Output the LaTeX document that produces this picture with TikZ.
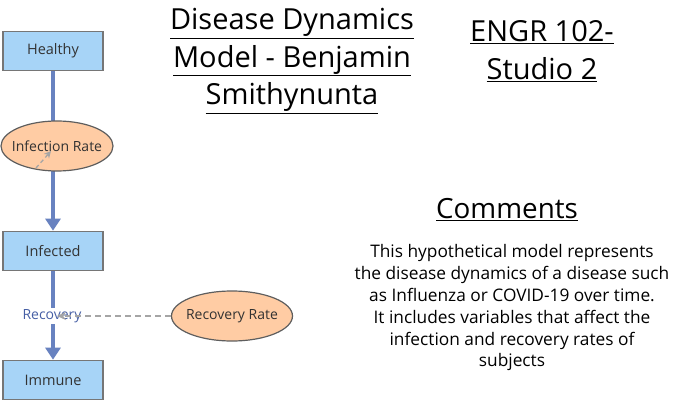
\documentclass[tikz,border=0pt]{standalone}
\usepackage{fontspec}
\setmainfont{Open Sans}
\usetikzlibrary{arrows.meta,shapes.geometric}
\definecolor{boxfill}{RGB}{167,212,247}
\definecolor{boxdraw}{RGB}{118,118,118}
\definecolor{peach}{RGB}{255,204,164}
\definecolor{flowc}{RGB}{104,130,192}
\definecolor{linkc}{RGB}{165,165,165}
\definecolor{txt}{RGB}{50,50,50}
\definecolor{flowtxt}{RGB}{70,95,165}
\tikzset{
  stock/.style={draw=boxdraw, line width=1.6pt, fill=boxfill, minimum width=100pt, minimum height=39pt, inner sep=0pt, text=txt, font=\fontsize{14.5}{16}\selectfont},
  var/.style={ellipse, draw=boxdraw!80!black, line width=1.2pt, fill=peach, inner ysep=0pt, inner xsep=-12pt, minimum height=50pt, text=txt, font=\fontsize{14}{16}\selectfont},
  flow/.style={draw=flowc, line width=3.5pt, -{Triangle[length=12pt,width=15pt]}},
  link/.style={draw=linkc, line width=1.3pt, dashed, dash pattern=on 6pt off 4pt, -{Stealth[length=9pt,width=8pt]}},
  title/.style={align=center, font=\fontsize{29}{37.5}\selectfont},
  body/.style={align=center, font=\fontsize{17.3}{21.8}\selectfont}
}
\begin{document}
\begin{tikzpicture}[x=1pt,y=-1pt]
\useasboundingbox (0,0) rectangle (684,403);
\fill[white] (0,0) rectangle (684,403);
\node[stock] (healthy) at (53,51) {Healthy};
\node[stock] (infected) at (53,251) {Infected};
\node[stock] (immune) at (53,380) {Immune};
\draw[flow] (healthy.south) -- (infected.north);
\node[var, minimum width=112pt] (infrate) at (57,146) {Infection Rate};
\coordinate (infsrc) at (36,168);
\coordinate (infvalve) at (51,151);
\draw[link, dash pattern=on 4pt off 3pt, -{Stealth[length=7pt,width=7pt]}] (infsrc) -- (infvalve);
\draw[flow] (infected.south) -- (immune.north);
\node[fill=white, inner sep=1pt, text=flowtxt, font=\fontsize{14}{16}\selectfont] (recovery) at (52,316) {Recovery};
\coordinate (rectip) at (57,316);
\node[var, minimum width=121pt] (recrate) at (232,316) {Recovery Rate};
\draw[link] (recrate.west) -- (rectip);
\node[title] (maintitle) at (292,61) {\underline{Disease Dynamics}\\\underline{Model - Benjamin}\\\underline{Smithynunta}};
\node[title] (course) at (542,51) {\underline{ENGR 102-}\\\underline{Studio 2}};
\node[font=\fontsize{27.8}{30}\selectfont] (comments) at (507,210) {\underline{Comments}};
\node[body] (commenttext) at (512,308) {This hypothetical model represents\\the disease dynamics of a disease such\\as Influenza or COVID-19 over time.\\It includes variables that affect the\\infection and recovery rates of\\subjects};
\end{tikzpicture}
\end{document}
